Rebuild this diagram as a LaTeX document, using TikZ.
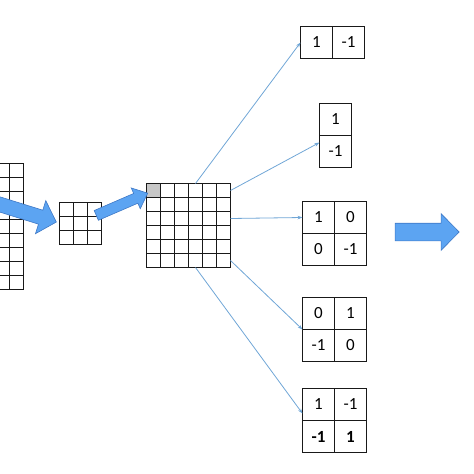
\documentclass[tikz,border=0pt]{standalone}
\usepackage{fontspec}
\setmainfont{Carlito}
\usetikzlibrary{shapes.arrows,arrows.meta}

\definecolor{arrowblue}{RGB}{92,164,242}
\definecolor{arrowedge}{RGB}{62,120,198}
\definecolor{linkblue}{RGB}{112,166,214}

\def\cellsep{14}

\begin{document}
\begin{tikzpicture}[x=1pt,y=-1pt,->,>={Stealth[length=5pt,width=3.5pt]},draw=linkblue,line width=0.8pt]
  \tikzstyle{cell}=[draw=black!90,line width=1.5pt,minimum size=14pt,inner sep=0pt,outer sep=0pt]
  \tikzstyle{weight}=[cell,line width=1.5pt,minimum size=32pt,font=\fontsize{17}{20}\selectfont]
  \tikzstyle{block arrow}=[single arrow,draw=arrowedge,fill=arrowblue,line width=0.6pt,inner xsep=0pt]

  \useasboundingbox (0,0) rectangle (474,474);
  \clip (0,0) rectangle (474,474);

  % Draw the input image (cut off at the left)
  \foreach \r in {1,...,9}
  \foreach \c in {1,...,9}
  \node[cell] (I-\r-\c) at (16.5-\cellsep*9+\cellsep*\c,170.5-\cellsep+\cellsep*\r) {};

  % Draw the kernel
  \foreach \r in {1,...,3}
  \foreach \c in {1,...,3}
  \node[cell] (K-\r-\c) at (66.5-\cellsep+\cellsep*\c,209.5-\cellsep+\cellsep*\r) {};

  % Draw the feature map
  \foreach \r in {1,...,6}
  \foreach \c in {1,...,6}
  \node[cell] (F-\r-\c) at (153.5-\cellsep+\cellsep*\c,190.5-\cellsep+\cellsep*\r) {};
  \node[cell,fill=black!22] at (F-1-1) {};

  % Draw the block arrows
  \node[block arrow,inner ysep=7pt,single arrow head extend=10pt,single arrow tip angle=93,
    minimum height=66pt,rotate=-17.3] (in2k) at (21.5,211.2) {};
  \node[block arrow,inner ysep=5pt,single arrow head extend=6pt,single arrow tip angle=82,
    minimum height=56pt,rotate=23.4] (k2f) at (119.2,205.5) {};
  \node[block arrow,inner ysep=8.5pt,single arrow head extend=9.5pt,single arrow tip angle=91,
    minimum height=64pt] (out) at (422.8,232) {};

  % Draw the filters
  \foreach \name / \x / \y / \val in {1/316.5/42.5/1, 2/348.5/42.5/-1}
  \node[weight] (W1-\name) at (\x,\y) {\val};

  \foreach \name / \x / \y / \val in {1/335.5/119.5/1, 2/335.5/151.5/-1}
  \node[weight] (W2-\name) at (\x,\y) {\val};

  \foreach \name / \x / \y / \val in {1/318.5/217.5/1, 2/350.5/217.5/0,
    3/318.5/249.5/0, 4/350.5/249.5/-1}
  \node[weight] (W3-\name) at (\x,\y) {\val};

  \foreach \name / \x / \y / \val in {1/318.5/313.5/0, 2/350.5/313.5/1,
    3/318.5/345.5/-1, 4/350.5/345.5/0}
  \node[weight] (W4-\name) at (\x,\y) {\val};

  \foreach \name / \x / \y / \val in {1/318.5/404.5/1, 2/350.5/404.5/-1,
    3/318.5/436.5/\textbf{-1}, 4/350.5/436.5/\textbf{1}}
  \node[weight] (W5-\name) at (\x,\y) {\val};

  % Connect feature map and filters
  \path (F-1-4.north) edge (W1-1.west);
  \path (F-1-6.east) edge ([yshift=9pt]W2-2.west);
  \path (F-3-6.east) edge (W3-1.west);
  \path (F-6-6.east) edge (W4-1.south west);
  \path (F-6-4.south) edge ([yshift=-9pt]W5-1.west);
\end{tikzpicture}
\end{document}
